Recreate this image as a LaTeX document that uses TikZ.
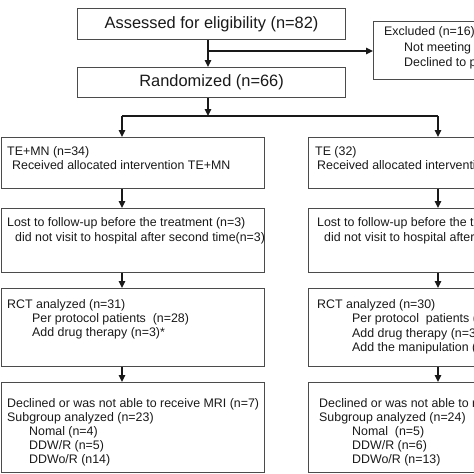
\documentclass[tikz,border=0pt]{standalone}
\usepackage{fontspec}
\setmainfont{Liberation Sans}
\usetikzlibrary{arrows.meta, positioning, calc}
\definecolor{BoxGray}{RGB}{75, 75, 75}
\definecolor{InkBlack}{RGB}{25, 25, 25}

\tikzset{
    box/.style={draw=BoxGray, line width=1.2pt, rectangle, anchor=north west, inner sep=0pt},
    head/.style={text=InkBlack, font=\fontsize{16.4}{20}\selectfont},
    txt/.style={anchor=north west, inner sep=0pt, align=left, text=InkBlack, font=\fontsize{12.4}{14}\selectfont},
    arr/.style={line width=1.4pt, draw=InkBlack, -{Triangle[length=7pt, width=6.5pt]}},
    link/.style={line width=1.4pt, draw=InkBlack}
}

\begin{document}
\begin{tikzpicture}[x=1pt, y=-1pt]
    \useasboundingbox (0,0) rectangle (474,474);
    \clip (0,0) rectangle (474,474);

    % Enrolment
    \node[box, head, minimum width=268pt, minimum height=31pt] (assess) at (77,8) {Assessed for eligibility (n=82)};
    \node[box, head, minimum width=268pt, minimum height=30pt] (rand) at (77,67) {Randomized (n=66)};
    \node[box, minimum width=200pt, minimum height=58pt] (excl) at (373,21) {};
    \node[txt, font=\fontsize{12.4}{15.5}\selectfont] (excl-t) at ([shift={(11,5.5)}]excl.north west) {Excluded (n=16)\\\hspace*{20pt}Not meeting\\\hspace*{20pt}Declined to participate};

    % Allocation
    \node[box, minimum width=263pt, minimum height=51pt] (mn) at (1,137) {};
    \node[box, minimum width=250pt, minimum height=51pt] (te) at (308,137) {};
    \node[txt] (mn-t) at ([shift={(6,9.4)}]mn.north west) {TE+MN (n=34)\\\hspace*{5pt}Received allocated intervention TE+MN};
    \node[txt] (te-t) at ([shift={(7,9.4)}]te.north west) {TE (32)\\\hspace*{2pt}Received allocated intervention};

    % Follow-up
    \node[box, minimum width=263pt, minimum height=64pt] (lostl) at (1,208) {};
    \node[box, minimum width=250pt, minimum height=64pt] (lostr) at (308,208) {};
    \node[txt, font=\fontsize{12.4}{15}\selectfont] (lostl-t) at ([shift={(6,9.4)}]lostl.north west) {Lost to follow-up before the treatment (n=3)\\\hspace*{8pt}did not visit to hospital after second time(n=3)};
    \node[txt, font=\fontsize{12.4}{15}\selectfont] (lostr-t) at ([shift={(9,9.4)}]lostr.north west) {Lost to follow-up before the treatment\\\hspace*{7pt}did not visit to hospital after};

    % Analysis
    \node[box, minimum width=263pt, minimum height=78pt] (rctl) at (1,288) {};
    \node[box, minimum width=250pt, minimum height=78pt] (rctr) at (308,288) {};
    \node[txt] (rctl-t) at ([shift={(6,11.4)}]rctl.north west) {RCT analyzed (n=31)\\\hspace*{25pt}Per protocol patients\ \ (n=28)\\\hspace*{25pt}Add drug therapy (n=3)*};
    \node[txt, font=\fontsize{12.4}{14.3}\selectfont] (rctr-t) at ([shift={(9,11.4)}]rctr.north west) {RCT analyzed (n=30)\\\hspace*{35pt}Per protocol\ \ patients (\\\hspace*{35pt}Add drug therapy (n=3\\\hspace*{35pt}Add the manipulation (};

    % MRI subgroup
    \node[box, minimum width=263pt, minimum height=90pt] (mril) at (1,382) {};
    \node[box, minimum width=250pt, minimum height=90pt] (mrir) at (308,382) {};
    \node[txt] (mril-t) at ([shift={(6,16.4)}]mril.north west) {Declined or was not able to receive MRI (n=7)\\Subgroup analyzed (n=23)\\\hspace*{22pt}Nomal (n=4)\\\hspace*{22pt}DDW/R (n=5)\\\hspace*{22pt}DDWo/R (n14)};
    \node[txt] (mrir-t) at ([shift={(11,16.4)}]mrir.north west) {Declined or was not able to receive\\Subgroup analyzed (n=24)\\\hspace*{33pt}Nomal\ \ (n=5)\\\hspace*{33pt}DDW/R (n=6)\\\hspace*{33pt}DDWo/R (n=13)};

    % Junctions
    \coordinate (split) at (208,51);
    \coordinate (fork) at (208,116);
    \coordinate (forkl) at (122,116);
    \coordinate (forkr) at (438,116);

    % Arrows
    \draw[arr] (split |- assess.south) -- (split |- rand.north);
    \draw[arr] (split) -- (split -| excl.west);
    \draw[arr] (fork |- rand.south) -- (fork);
    \draw[link] (forkl) -- (forkr);
    \draw[arr] (forkl) -- (forkl |- mn.north);
    \draw[arr] (forkr) -- (forkr |- te.north);
    \draw[arr] (forkl |- mn.south) -- (forkl |- lostl.north);
    \draw[arr] (forkr |- te.south) -- (forkr |- lostr.north);
    \draw[arr] (forkl |- lostl.south) -- (forkl |- rctl.north);
    \draw[arr] (forkr |- lostr.south) -- (forkr |- rctr.north);
    \draw[arr] (forkl |- rctl.south) -- (forkl |- mril.north);
    \draw[arr] (forkr |- rctr.south) -- (forkr |- mrir.north);
\end{tikzpicture}
\end{document}
